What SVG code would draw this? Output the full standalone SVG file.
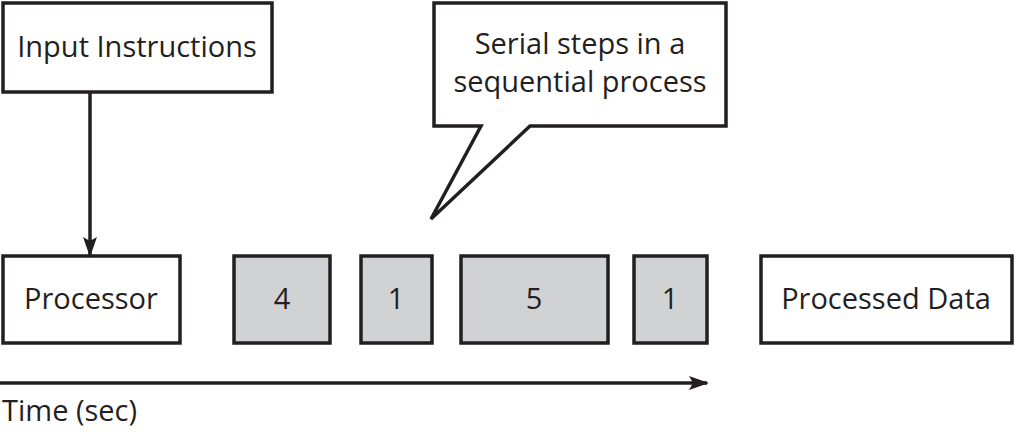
<svg xmlns="http://www.w3.org/2000/svg" width="1015" height="432" viewBox="0 0 1015 432">
<style>
.b{fill:#fff;stroke:#231f20;stroke-width:3.5}
.g{fill:#d1d2d4;stroke:#231f20;stroke-width:3.5}
text{font-family:"Open Sans","Liberation Sans",sans-serif;font-size:29px;fill:#231f20;text-anchor:middle}
.l{stroke:#231f20;stroke-width:3.5;fill:none}
</style>
<defs><marker id="ah" markerWidth="20" markerHeight="14" refX="18" refY="7" orient="auto" markerUnits="userSpaceOnUse"><path d="M0,0 L20,7 L0,14 L4,7Z" fill="#231f20"/></marker></defs>
<g id="input"><rect class="b" x="3" y="3" width="269" height="89"/><text x="137" y="57">Input Instructions</text></g>
<g id="callout"><path class="b" d="M434,3 H726 V126 H530 L431,219 L481,126 H434 Z"/><text x="580" y="54">Serial steps in a</text><text x="580" y="92">sequential process</text></g>
<g id="processor"><rect class="b" x="3" y="256" width="177" height="87"/><text x="91" y="309">Processor</text></g>
<g id="s1"><rect class="g" x="234" y="256" width="96" height="87"/><text x="282" y="309">4</text></g>
<g id="s2"><rect class="g" x="361" y="256" width="71" height="87"/><text x="396" y="309">1</text></g>
<g id="s3"><rect class="g" x="461" y="256" width="147" height="87"/><text x="534" y="309">5</text></g>
<g id="s4"><rect class="g" x="634" y="256" width="73" height="87"/><text x="670" y="309">1</text></g>
<g id="out"><rect class="b" x="761" y="256" width="251" height="87"/><text x="886" y="309">Processed Data</text></g>
<g id="connectors">
<line class="l" x1="90" y1="92" x2="90" y2="255" marker-end="url(#ah)"/>
<line class="l" x1="0" y1="383" x2="707" y2="383" marker-end="url(#ah)"/>
</g>
<text x="2" y="421" style="text-anchor:start">Time (sec)</text>
</svg>
